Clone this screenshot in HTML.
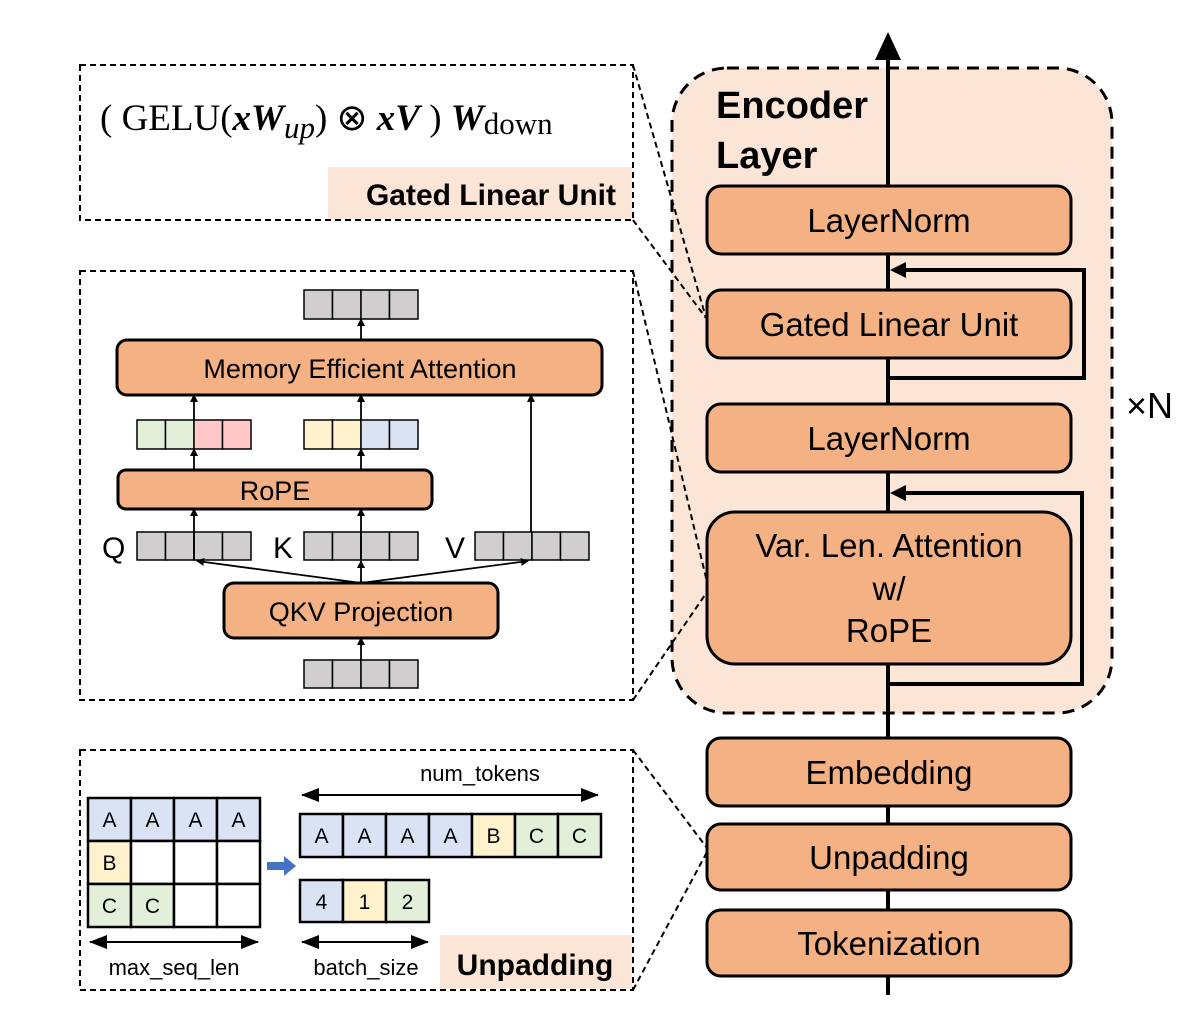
<!DOCTYPE html>
<html><head><meta charset="utf-8"><style>
html,body{margin:0;padding:0;background:#fff}
svg{display:block}
text{font-family:"Liberation Sans",sans-serif}
</style></head><body>
<svg width="1199" height="1020" viewBox="0 0 1199 1020" xmlns="http://www.w3.org/2000/svg">
<defs>
<marker id="a" markerWidth="8" markerHeight="8" refX="7" refY="4" orient="auto" markerUnits="userSpaceOnUse"><path d="M0,0 L8,4 L0,8 z" fill="#000"/></marker>
<marker id="c" markerWidth="18" markerHeight="18" refX="17" refY="9" orient="auto-start-reverse" markerUnits="userSpaceOnUse"><path d="M0,2 L18,9 L0,16 z" fill="#000"/></marker>
</defs>

<rect x="672" y="68" width="440" height="645" rx="55" fill="#fbe5d6" stroke="#000" stroke-width="3" stroke-dasharray="12,8"/>
<text x="716" y="118" font-size="38" font-weight="bold">Encoder</text>
<text x="716" y="168" font-size="38" font-weight="bold">Layer</text>

<line x1="888" y1="995" x2="888" y2="58" stroke="#000" stroke-width="4"/>
<path d="M875,60 L888,32 L901,60 z" fill="#000"/>
<polyline points="888,378 1084,378 1084,270 905,270" fill="none" stroke="#000" stroke-width="4"/>
<path d="M890,270 L906,262 L906,278 z" fill="#000"/>
<polyline points="888,684 1082,684 1082,493 905,493" fill="none" stroke="#000" stroke-width="4"/>
<path d="M890,493 L906,485 L906,501 z" fill="#000"/>

<g stroke="#000" stroke-width="3" fill="#f4b183">
<rect x="707" y="186" width="364" height="68" rx="14"/>
<rect x="707" y="290" width="364" height="68" rx="14"/>
<rect x="707" y="404" width="364" height="68" rx="14"/>
<rect x="707" y="512" width="364" height="152" rx="28"/>
<rect x="707" y="738" width="364" height="68" rx="14"/>
<rect x="707" y="824" width="364" height="66" rx="14"/>
<rect x="707" y="910" width="364" height="66" rx="14"/>
</g>
<g font-size="33" text-anchor="middle" fill="#000">
<text x="889" y="232">LayerNorm</text>
<text x="889" y="336">Gated Linear Unit</text>
<text x="889" y="450">LayerNorm</text>
<text x="889" y="557">Var. Len. Attention</text>
<text x="889" y="600">w/</text>
<text x="889" y="642">RoPE</text>
<text x="889" y="784">Embedding</text>
<text x="889" y="869">Unpadding</text>
<text x="889" y="955">Tokenization</text>
</g>
<text x="1126" y="418" font-size="36">×N</text>

<g fill="none" stroke="#000" stroke-width="2" stroke-dasharray="6,4">
<rect x="80" y="65" width="553" height="155"/>
<rect x="80" y="271" width="553" height="429"/>
<rect x="80" y="750" width="553" height="240"/>
<line x1="633" y1="65" x2="706" y2="318"/>
<line x1="633" y1="220" x2="706" y2="318"/>
<line x1="633" y1="271" x2="707" y2="582"/>
<line x1="633" y1="700" x2="707" y2="592"/>
<line x1="633" y1="750" x2="707" y2="848"/>
<line x1="633" y1="990" x2="707" y2="852"/>
</g>

<rect x="328" y="167" width="304" height="52" fill="#fbe5d6"/>
<text x="616" y="205" font-size="30" font-weight="bold" text-anchor="end">Gated Linear Unit</text>
<text x="100" y="130" font-size="37" style="font-family:'Liberation Serif',serif">( GELU(<tspan font-weight="bold" font-style="italic">xW</tspan><tspan font-style="italic" font-size="31" dy="8">up</tspan><tspan dy="-8">)  ⊗ </tspan><tspan font-weight="bold" font-style="italic">xV</tspan> ) <tspan font-weight="bold" font-style="italic">W</tspan><tspan font-size="31" dy="4">down</tspan></text>

<g stroke="#000" stroke-width="1.5">
<g fill="#d0cece">
<rect x="304" y="290" width="28.5" height="29"/><rect x="332.5" y="290" width="28.5" height="29"/><rect x="361" y="290" width="28.5" height="29"/><rect x="389.5" y="290" width="28.5" height="29"/>
<rect x="137" y="532" width="28.5" height="28"/><rect x="165.5" y="532" width="28.5" height="28"/><rect x="194" y="532" width="28.5" height="28"/><rect x="222.5" y="532" width="28.5" height="28"/>
<rect x="304" y="532" width="28.5" height="28"/><rect x="332.5" y="532" width="28.5" height="28"/><rect x="361" y="532" width="28.5" height="28"/><rect x="389.5" y="532" width="28.5" height="28"/>
<rect x="475" y="532" width="28.5" height="28"/><rect x="503.5" y="532" width="28.5" height="28"/><rect x="532" y="532" width="28.5" height="28"/><rect x="560.5" y="532" width="28.5" height="28"/>
<rect x="304" y="660" width="28.5" height="28"/><rect x="332.5" y="660" width="28.5" height="28"/><rect x="361" y="660" width="28.5" height="28"/><rect x="389.5" y="660" width="28.5" height="28"/>
</g>
<rect x="137" y="420" width="28.5" height="29" fill="#e2f0d9"/><rect x="165.5" y="420" width="28.5" height="29" fill="#e2f0d9"/>
<rect x="194" y="420" width="28.5" height="29" fill="#ffc7c7"/><rect x="222.5" y="420" width="28.5" height="29" fill="#ffc7c7"/>
<rect x="304" y="420" width="28.5" height="29" fill="#fff2cc"/><rect x="332.5" y="420" width="28.5" height="29" fill="#fff2cc"/>
<rect x="361" y="420" width="28.5" height="29" fill="#dae3f3"/><rect x="389.5" y="420" width="28.5" height="29" fill="#dae3f3"/>
</g>
<g stroke="#000" stroke-width="1.8" fill="none" marker-end="url(#a)">
<line x1="361" y1="340" x2="361" y2="319"/>
<line x1="194" y1="420" x2="194" y2="395"/>
<line x1="361" y1="420" x2="361" y2="395"/>
<line x1="531" y1="532" x2="531" y2="395"/>
<line x1="194" y1="470" x2="194" y2="449"/>
<line x1="361" y1="470" x2="361" y2="449"/>
<line x1="194" y1="560" x2="194" y2="509"/>
<line x1="361" y1="560" x2="361" y2="509"/>
<line x1="361" y1="583" x2="197" y2="561"/>
<line x1="361" y1="583" x2="361" y2="561"/>
<line x1="361" y1="583" x2="528" y2="561"/>
<line x1="361" y1="660" x2="361" y2="638"/>
</g>
<g stroke="#000" stroke-width="3" fill="#f4b183">
<rect x="117" y="340" width="485" height="55" rx="10"/>
<rect x="118" y="470" width="314" height="39" rx="8"/>
<rect x="224" y="583" width="274" height="55" rx="10"/>
</g>
<g font-size="27" text-anchor="middle">
<text x="360" y="378">Memory Efficient Attention</text>
<text x="275" y="500">RoPE</text>
<text x="361" y="621">QKV Projection</text>
</g>
<g font-size="30"><text x="102" y="558">Q</text><text x="273" y="558">K</text><text x="445" y="558">V</text></g>

<g stroke="#000" stroke-width="2.5">
<rect x="88" y="798" width="43" height="43" fill="#dae3f3"/><rect x="131" y="798" width="43" height="43" fill="#dae3f3"/><rect x="174" y="798" width="43" height="43" fill="#dae3f3"/><rect x="217" y="798" width="43" height="43" fill="#dae3f3"/>
<rect x="88" y="841" width="43" height="43" fill="#fff2cc"/><rect x="131" y="841" width="43" height="43" fill="#fff"/><rect x="174" y="841" width="43" height="43" fill="#fff"/><rect x="217" y="841" width="43" height="43" fill="#fff"/>
<rect x="88" y="884" width="43" height="43" fill="#e2f0d9"/><rect x="131" y="884" width="43" height="43" fill="#e2f0d9"/><rect x="174" y="884" width="43" height="43" fill="#fff"/><rect x="217" y="884" width="43" height="43" fill="#fff"/>
<rect x="300" y="814" width="43" height="43" fill="#dae3f3"/><rect x="343" y="814" width="43" height="43" fill="#dae3f3"/><rect x="386" y="814" width="43" height="43" fill="#dae3f3"/><rect x="429" y="814" width="43" height="43" fill="#dae3f3"/>
<rect x="472" y="814" width="43" height="43" fill="#fff2cc"/><rect x="515" y="814" width="43" height="43" fill="#e2f0d9"/><rect x="558" y="814" width="43" height="43" fill="#e2f0d9"/>
<rect x="300" y="880" width="43" height="42" fill="#dae3f3"/><rect x="343" y="880" width="43" height="42" fill="#fff2cc"/><rect x="386" y="880" width="43" height="42" fill="#e2f0d9"/>
</g>
<g font-size="21" text-anchor="middle">
<text x="109.5" y="827">A</text><text x="152.5" y="827">A</text><text x="195.5" y="827">A</text><text x="238.5" y="827">A</text>
<text x="109.5" y="870">B</text>
<text x="109.5" y="913">C</text><text x="152.5" y="913">C</text>
<text x="321.5" y="843">A</text><text x="364.5" y="843">A</text><text x="407.5" y="843">A</text><text x="450.5" y="843">A</text>
<text x="493.5" y="843">B</text><text x="536.5" y="843">C</text><text x="579.5" y="843">C</text>
<text x="321.5" y="909">4</text><text x="364.5" y="909">1</text><text x="407.5" y="909">2</text>
</g>
<g stroke="#000" stroke-width="2" marker-start="url(#c)" marker-end="url(#c)">
<line x1="90" y1="942" x2="258" y2="942"/>
<line x1="302" y1="795" x2="598" y2="795"/>
<line x1="302" y1="942" x2="428" y2="942"/>
</g>
<path d="M267,862 L284,862 L284,856 L296,866 L284,876 L284,870 L267,870 z" fill="#4472c4"/>
<g font-size="22" text-anchor="middle">
<text x="174" y="975">max_seq_len</text>
<text x="480" y="781">num_tokens</text>
<text x="366" y="975">batch_size</text>
</g>
<rect x="440" y="935" width="192" height="54" fill="#fbe5d6"/>
<text x="535" y="975" font-size="30" font-weight="bold" text-anchor="middle">Unpadding</text>
</svg>
</body></html>
